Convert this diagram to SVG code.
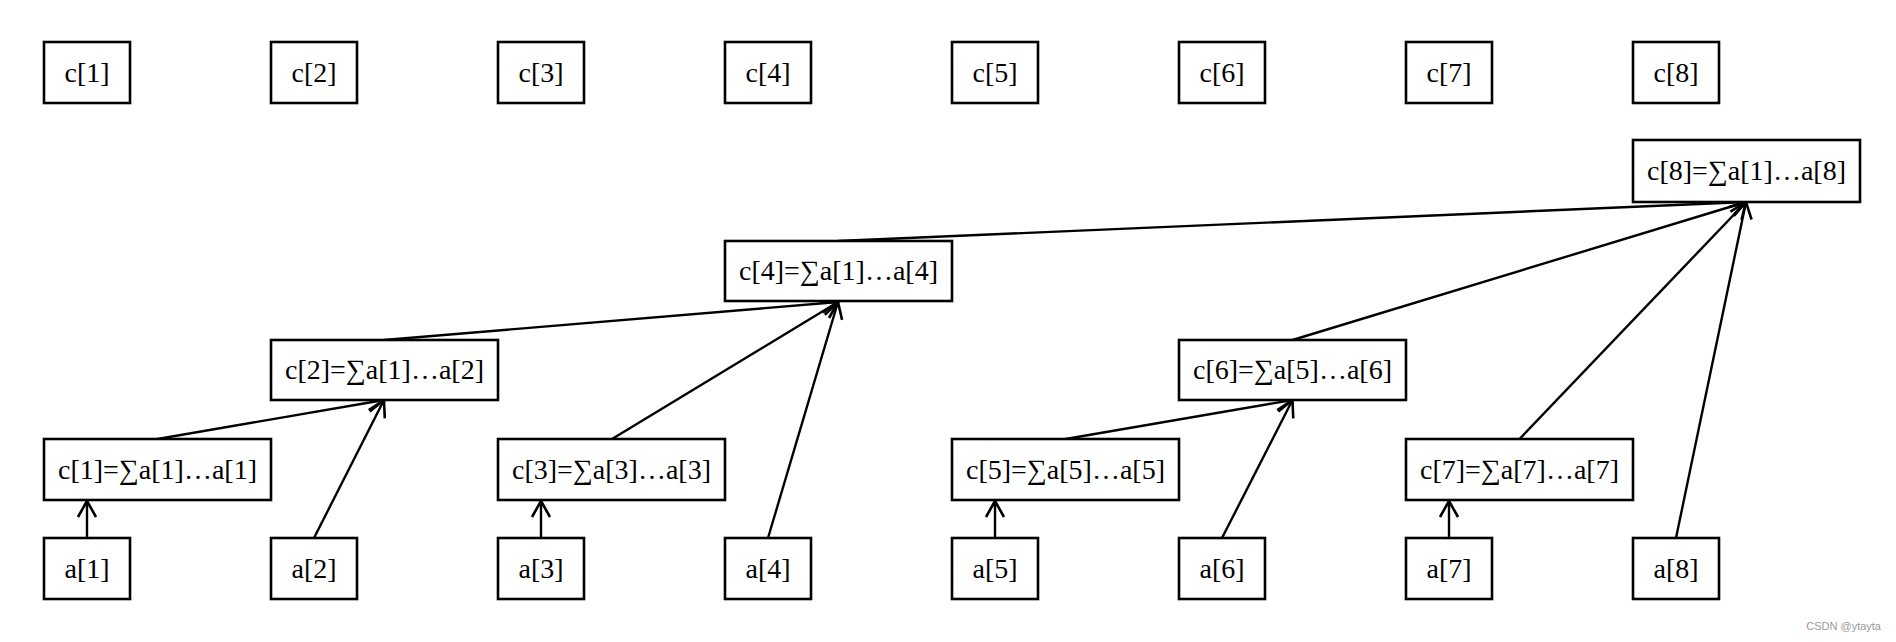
<svg xmlns="http://www.w3.org/2000/svg" width="1896" height="642" viewBox="0 0 1896 642">
<style>
.box{fill:#fff;stroke:#000;stroke-width:2.6}
.t{font-family:"Liberation Serif","Times New Roman",serif;font-size:28px;fill:#000;text-anchor:middle}
.c{fill:none;stroke:#000;stroke-width:2.4}
.wm{font-family:"Liberation Sans",Arial,sans-serif;font-size:11px;fill:#999;text-anchor:end}
</style>
<defs>
<marker id="arr" markerUnits="userSpaceOnUse" viewBox="-20 -12 24 24" refX="0" refY="0" markerWidth="24" markerHeight="24" orient="auto">
<path d="M-16,-9 L0,0 L-16,9" fill="none" stroke="#000" stroke-width="2.6"/>
</marker>
</defs>
<rect width="1896" height="642" fill="#fff"/>
<g id="connectors" class="c" marker-end="url(#arr)">
<line x1="87" y1="538" x2="87" y2="501"/>
<line x1="314" y1="538" x2="384" y2="400"/>
<line x1="157.5" y1="439" x2="384" y2="400"/>
<line x1="541" y1="538" x2="541" y2="501"/>
<line x1="384" y1="340" x2="838" y2="302"/>
<line x1="612" y1="439" x2="838" y2="302"/>
<line x1="768" y1="538" x2="838" y2="302"/>
<line x1="838" y1="241" x2="1746" y2="202"/>
<line x1="995" y1="538" x2="995" y2="501"/>
<line x1="1222" y1="538" x2="1292.5" y2="400"/>
<line x1="1065.5" y1="439" x2="1292.5" y2="400"/>
<line x1="1292.5" y1="340" x2="1746" y2="202"/>
<line x1="1449" y1="538" x2="1449" y2="501"/>
<line x1="1519.5" y1="439" x2="1746" y2="202"/>
<line x1="1676" y1="538" x2="1746" y2="202"/>
</g>
<g id="c1"><rect class="box" x="44" y="42" width="86" height="61"/><text class="t" x="87" y="81.5">c[1]</text></g>
<g id="c2"><rect class="box" x="271" y="42" width="86" height="61"/><text class="t" x="314" y="81.5">c[2]</text></g>
<g id="c3"><rect class="box" x="498" y="42" width="86" height="61"/><text class="t" x="541" y="81.5">c[3]</text></g>
<g id="c4"><rect class="box" x="725" y="42" width="86" height="61"/><text class="t" x="768" y="81.5">c[4]</text></g>
<g id="c5"><rect class="box" x="952" y="42" width="86" height="61"/><text class="t" x="995" y="81.5">c[5]</text></g>
<g id="c6"><rect class="box" x="1179" y="42" width="86" height="61"/><text class="t" x="1222" y="81.5">c[6]</text></g>
<g id="c7"><rect class="box" x="1406" y="42" width="86" height="61"/><text class="t" x="1449" y="81.5">c[7]</text></g>
<g id="c8"><rect class="box" x="1633" y="42" width="86" height="61"/><text class="t" x="1676" y="81.5">c[8]</text></g>
<g id="s8"><rect class="box" x="1633" y="140" width="227" height="62"/><text class="t" x="1746.5" y="180">c[8]=∑a[1]…a[8]</text></g>
<g id="s4"><rect class="box" x="725" y="241" width="227" height="60"/><text class="t" x="838.5" y="280">c[4]=∑a[1]…a[4]</text></g>
<g id="s2"><rect class="box" x="271" y="340" width="227" height="60"/><text class="t" x="384.5" y="379">c[2]=∑a[1]…a[2]</text></g>
<g id="s6"><rect class="box" x="1179" y="340" width="227" height="60"/><text class="t" x="1292.5" y="379">c[6]=∑a[5]…a[6]</text></g>
<g id="s1"><rect class="box" x="44" y="439" width="227" height="61"/><text class="t" x="157.5" y="478.5">c[1]=∑a[1]…a[1]</text></g>
<g id="s3"><rect class="box" x="498" y="439" width="227" height="61"/><text class="t" x="611.5" y="478.5">c[3]=∑a[3]…a[3]</text></g>
<g id="s5"><rect class="box" x="952" y="439" width="227" height="61"/><text class="t" x="1065.5" y="478.5">c[5]=∑a[5]…a[5]</text></g>
<g id="s7"><rect class="box" x="1406" y="439" width="227" height="61"/><text class="t" x="1519.5" y="478.5">c[7]=∑a[7]…a[7]</text></g>
<g id="a1"><rect class="box" x="44" y="538" width="86" height="61"/><text class="t" x="87" y="577.5">a[1]</text></g>
<g id="a2"><rect class="box" x="271" y="538" width="86" height="61"/><text class="t" x="314" y="577.5">a[2]</text></g>
<g id="a3"><rect class="box" x="498" y="538" width="86" height="61"/><text class="t" x="541" y="577.5">a[3]</text></g>
<g id="a4"><rect class="box" x="725" y="538" width="86" height="61"/><text class="t" x="768" y="577.5">a[4]</text></g>
<g id="a5"><rect class="box" x="952" y="538" width="86" height="61"/><text class="t" x="995" y="577.5">a[5]</text></g>
<g id="a6"><rect class="box" x="1179" y="538" width="86" height="61"/><text class="t" x="1222" y="577.5">a[6]</text></g>
<g id="a7"><rect class="box" x="1406" y="538" width="86" height="61"/><text class="t" x="1449" y="577.5">a[7]</text></g>
<g id="a8"><rect class="box" x="1633" y="538" width="86" height="61"/><text class="t" x="1676" y="577.5">a[8]</text></g>
<text class="wm" x="1881" y="630">CSDN @ytayta</text>
</svg>
